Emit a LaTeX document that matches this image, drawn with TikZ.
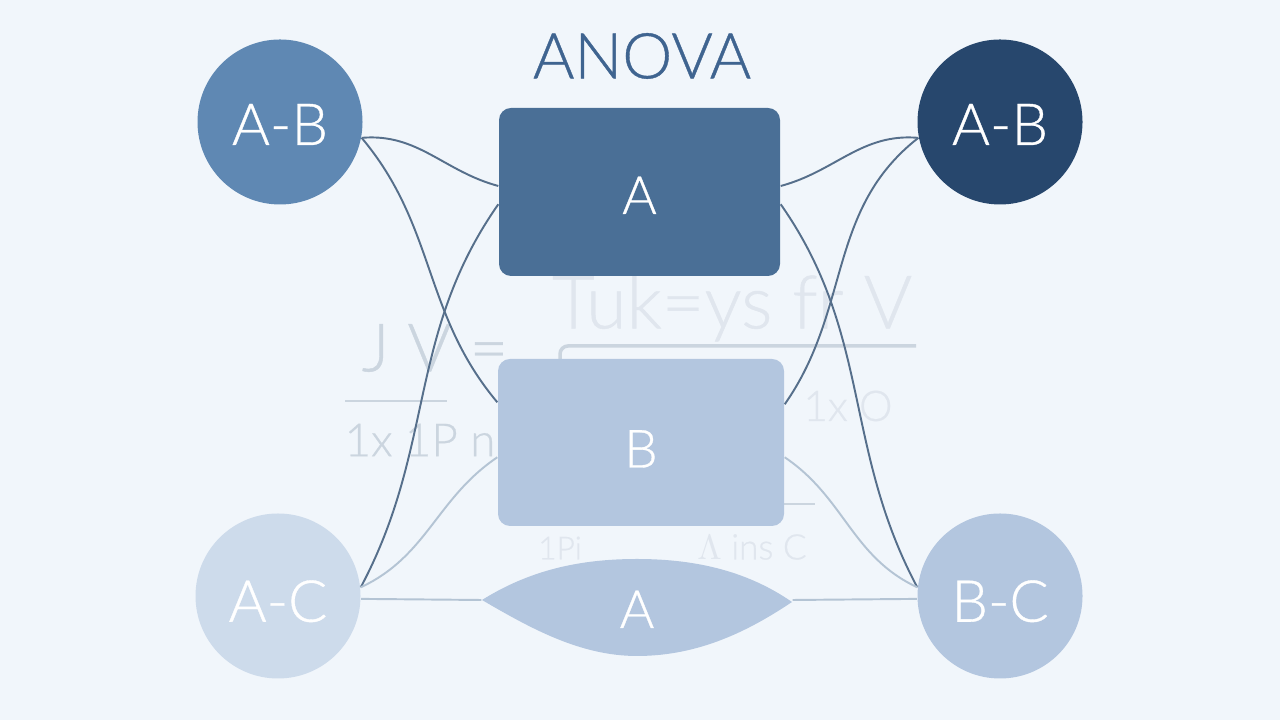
\documentclass[tikz,border=0pt]{standalone}
\usepackage{fontspec}
\setmainfont[FakeBold=0.6]{Lato Light}
\definecolor{bgblue}{HTML}{F1F6FB}
\definecolor{titleblue}{HTML}{3F6490}
\definecolor{boxablue}{HTML}{4A6F96}
\definecolor{boxbblue}{HTML}{B3C6DF}
\definecolor{ablblue}{HTML}{5F88B3}
\definecolor{abrblue}{HTML}{27476D}
\definecolor{aclblue}{HTML}{CDDBEB}
\definecolor{lineblue}{HTML}{566F8B}
\definecolor{lightline}{HTML}{B4C4D4}
\definecolor{ghostblue}{HTML}{CBD5DF}
\definecolor{ghostpale}{HTML}{E0E6EE}
\tikzset{
  pairnode/.style={circle,minimum size=1.65cm,inner sep=0pt,text=white,text height=0.46cm,font=\fontsize{16.5}{16.5}\selectfont},
  boxnode/.style={rectangle,rounded corners=0.12cm,inner sep=0pt,text=white,font=\fontsize{15}{15}\selectfont},
  darkline/.style={draw=lineblue,line width=0.55pt},
  paleline/.style={draw=lightline,line width=0.55pt},
  ghost/.style={inner sep=0pt,text=ghostblue,font=\fontsize{13}{13}\selectfont},
}
\begin{document}
\begin{tikzpicture}
\useasboundingbox (0,0) rectangle (12.8,7.2);
\fill[bgblue] (0,0) rectangle (12.8,7.2);
% faint formula behind the diagram
\node[ghost,font=\fontsize{19}{19}\selectfont] (gv) at(4.35,3.72) {J V =};
\node[ghost] (gn) at(4.2,2.8) {1x 1P n};
\node[ghost,text=ghostpale,font=\fontsize{21}{21}\selectfont] (gt) at(7.32,4.12) {Tuk=ys fr V};
\node[ghost,text=ghostpale,font=\fontsize{12}{12}\selectfont] (gx) at(8.48,3.14) {1x O};
\node[ghost,text=ghostpale,font=\fontsize{10}{10}\selectfont] (gc) at(7.52,1.73) {$\Lambda$ ins C};
\node[ghost,text=ghostpale,font=\fontsize{9}{9}\selectfont] (gp) at(5.6,1.72) {1Pi};
\coordinate (g1) at(3.45,3.19);
\coordinate (g2) at(4.47,3.19);
\draw[ghostblue,line width=0.8pt] (g1) -- (g2);
\coordinate (g3) at(5.6,3.55);
\coordinate (g5) at(9.16,3.74);
\draw[ghostblue,line width=1pt,rounded corners=0.08cm] (g3) |- (g5);
\coordinate (g6) at(7.8,2.16);
\coordinate (g7) at(8.15,2.16);
\draw[ghostblue,line width=0.8pt] (g6) -- (g7);
% nodes
\node[pairnode,fill=ablblue] (abl) at(2.8,5.98) {A-B};
\node[pairnode,fill=abrblue] (abr) at(10,5.98) {A-B};
\node[pairnode,fill=aclblue,text height=0.52cm] (acl) at(2.78,1.24) {A-C};
\node[pairnode,fill=boxbblue,text height=0.52cm] (bcr) at(10,1.24) {B-C};
\node[boxnode,fill=boxablue,minimum width=2.81cm,minimum height=1.68cm,text height=0.44cm] (boxa) at(6.395,5.28) {A};
\node[boxnode,fill=boxbblue,minimum width=2.86cm,minimum height=1.67cm,text height=0.5cm] (boxb) at(6.41,2.775) {B};
\fill[boxbblue] (4.82,1.2) .. controls (5.3,1.5) and (5.8,1.61) .. (6.37,1.61) .. controls (7,1.61) and (7.5,1.47) .. (7.92,1.18) .. controls (7.5,0.9) and (7,0.64) .. (6.37,0.64) .. controls (5.8,0.64) and (5.3,0.92) .. (4.82,1.2);
\node[boxnode,minimum width=3.1cm,minimum height=0.97cm,text height=0.56cm] (lensa) at(6.37,1.2) {A};
\node[text=titleblue,inner sep=0pt,font=\fontsize{18}{18}\selectfont] (title) at(6.42,6.64) {ANOVA};
% connectors
\draw[darkline] (abl.-11) to[out=5,in=165] ([yshift=0.06cm]boxa.west);
\draw[darkline] (abl.-11) to[out=-50,in=130] ([yshift=-0.44cm]boxb.north west);
\draw[darkline] (acl.6) to[out=62,in=-125] ([yshift=-0.97cm]boxa.north west);
\draw[paleline] (acl.6) to[out=25,in=-146] ([yshift=-0.99cm]boxb.north west);
\draw[paleline] (acl.-2) -- (lensa.west);
\draw[darkline] (abr.191) to[out=175,in=15] ([yshift=0.06cm]boxa.east);
\draw[darkline] (abr.191) to[out=-142,in=55] ([yshift=-0.46cm]boxb.north east);
\draw[darkline] (bcr.174) to[out=118,in=-55] ([yshift=-0.97cm]boxa.north east);
\draw[paleline] (bcr.174) to[out=155,in=-34] ([yshift=-0.99cm]boxb.north east);
\draw[paleline] (bcr.182) -- (lensa.east);
\end{tikzpicture}
\end{document}
